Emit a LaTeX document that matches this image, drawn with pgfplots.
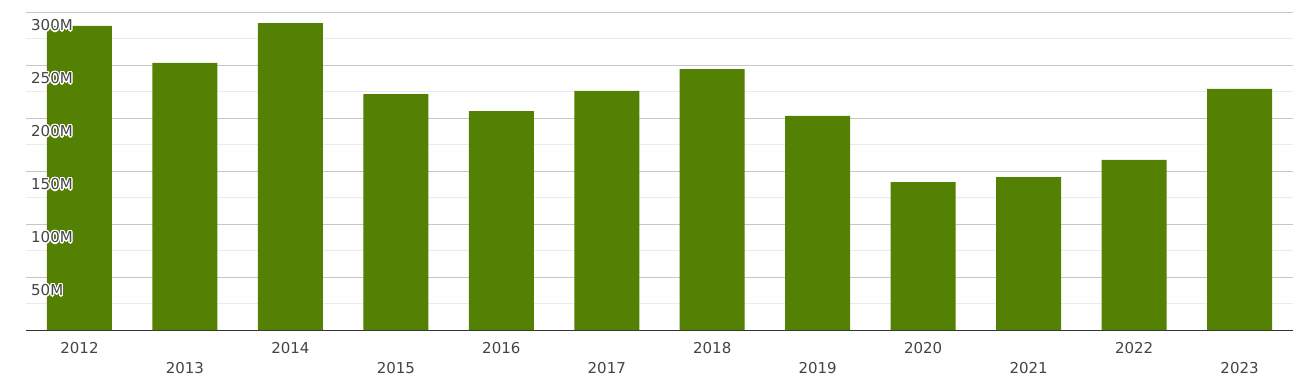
\documentclass[border=0pt]{standalone}
\usepackage{pgfplots}
\pgfplotsset{compat=1.18}
\usepackage{fontspec}
\setmainfont{DejaVu Sans}
\usepackage{contour}
\contourlength{1.2pt}
\definecolor{bargreen}{HTML}{548003}
\definecolor{txt}{HTML}{444444}
\begin{document}
\begin{tikzpicture}
\useasboundingbox (-26bp,-54bp) rectangle (1267bp,330bp);
\begin{axis}[
  at={(0,0)}, anchor=south west,
  scale only axis,
  width=1267bp, height=318bp,
  xmin=-0.507, xmax=11.507,
  ymin=0, ymax=300,
  ybar, bar width=65bp,
  axis y line=none,
  axis x line*=bottom,
  x axis line style={draw=black!80, line width=0.8pt},
  major tick length=0pt,
  xtick={0,2,4,6,8,10},
  xticklabels={2012,2014,2016,2018,2020,2022},
  extra x ticks={1,3,5,7,9,11},
  extra x tick labels={2013,2015,2017,2019,2021,2023},
  extra x tick style={tick label style={yshift=-20bp}},
  xticklabel style={font=\fontsize{15bp}{17bp}\selectfont, text=txt, anchor=center, yshift=-18.5bp},
  ytick=\empty,
  clip=false,
]
% grid lines
\pgfplotsinvokeforeach{25,75,125,175,225,275}{
  \draw[draw=black!8, line width=0.8pt] (axis cs:-0.507,#1) -- (axis cs:11.507,#1);
}
\pgfplotsinvokeforeach{50,100,150,200,250,300}{
  \draw[draw=black!22, line width=0.8pt] (axis cs:-0.507,#1) -- (axis cs:11.507,#1);
}
\addplot[fill=bargreen, draw=none] coordinates {
 (0,286.8) (1,251.9) (2,289.6) (3,222.6) (4,206.6) (5,225.5)
 (6,246.2) (7,201.9) (8,139.6) (9,144.3) (10,160.4) (11,227.4)
};
\pgfplotsinvokeforeach{50,100,150,200,250,300}{
  \node[anchor=north west, inner sep=0pt, text=txt, font=\fontsize{15bp}{17bp}\selectfont] at ([xshift=5bp,yshift=-7.5bp]axis cs:-0.507,#1) {\contour{white}{#1M}};
}
\end{axis}
\end{tikzpicture}
\end{document}
